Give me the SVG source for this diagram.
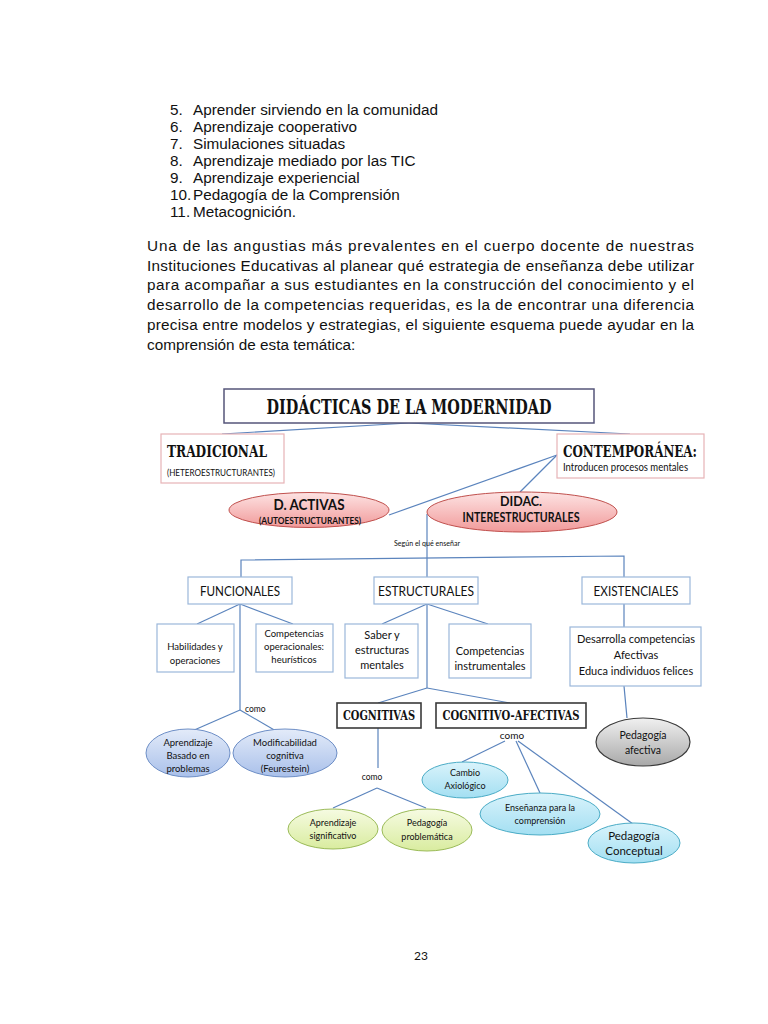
<svg xmlns="http://www.w3.org/2000/svg" width="768" height="1024" viewBox="0 0 768 1024">
<defs>
<style>
.body{font-family:"Liberation Sans",Arial,sans-serif;font-size:15.3px;fill:#111}
.deco{font-family:"DejaVu Serif","Liberation Serif",serif;font-weight:bold;fill:#111}
.cal{font-family:Lato,"Open Sans",sans-serif;fill:#111}
.b{font-weight:bold}
.conn{stroke:#5b84bd;stroke-width:1.2;fill:none}
.pinkbox{fill:#fff;stroke:#e7b3b6;stroke-width:1.2}
.bluebox{fill:#fff;stroke:#9bb7da;stroke-width:1.2}
.darkbox{fill:#fff;stroke:#3a3a3a;stroke-width:1.6}
.title{fill:#fff;stroke:#55557a;stroke-width:1.5}
.redell{fill:url(#gRed);stroke:#c0504d;stroke-width:1}
.blueell{fill:url(#gBlue);stroke:#6d8ec6;stroke-width:1}
.cyanell{fill:url(#gCyan);stroke:#4bacc6;stroke-width:1}
.greenell{fill:url(#gGreen);stroke:#9bbb59;stroke-width:1}
.greyell{fill:url(#gGrey);stroke:#3a3a3a;stroke-width:1.2}
</style>
<linearGradient id="gRed" x1="0" y1="0" x2="0" y2="1"><stop offset="0" stop-color="#fde3e3"/><stop offset="1" stop-color="#f19a9a"/></linearGradient>
<linearGradient id="gBlue" x1="0" y1="0" x2="0" y2="1"><stop offset="0" stop-color="#e3ebf9"/><stop offset="1" stop-color="#a9c0ea"/></linearGradient>
<linearGradient id="gCyan" x1="0" y1="0" x2="0" y2="1"><stop offset="0" stop-color="#d9f3fb"/><stop offset="1" stop-color="#a3dff2"/></linearGradient>
<linearGradient id="gGreen" x1="0" y1="0" x2="0" y2="1"><stop offset="0" stop-color="#f6fbe2"/><stop offset="1" stop-color="#d9ec9f"/></linearGradient>
<linearGradient id="gGrey" x1="0" y1="0" x2="0" y2="1"><stop offset="0" stop-color="#f0f0f0"/><stop offset="1" stop-color="#a8a8a8"/></linearGradient>
</defs>
<rect width="768" height="1024" fill="#fff"/>

<g id="list" class="body">
<text x="170" y="115">5.</text><text x="193" y="115">Aprender sirviendo en la comunidad</text>
<text x="170" y="132">6.</text><text x="193" y="132">Aprendizaje cooperativo</text>
<text x="170" y="149">7.</text><text x="193" y="149">Simulaciones situadas</text>
<text x="170" y="166">8.</text><text x="193" y="166">Aprendizaje mediado por las TIC</text>
<text x="170" y="183">9.</text><text x="193" y="183">Aprendizaje experiencial</text>
<text x="170" y="200">10.</text><text x="193" y="200">Pedagogía de la Comprensión</text>
<text x="170" y="217">11.</text><text x="193" y="217">Metacognición.</text>
</g>

<g id="paragraph" class="body">
<text x="147" y="251" textLength="547" lengthAdjust="spacing">Una de las angustias más prevalentes en el cuerpo docente de nuestras</text>
<text x="147" y="270.7" textLength="547" lengthAdjust="spacing">Instituciones Educativas al planear qué estrategia de enseñanza debe utilizar</text>
<text x="147" y="290.4" textLength="547" lengthAdjust="spacing">para acompañar  a sus estudiantes en la construcción del  conocimiento y  el</text>
<text x="147" y="310.1" textLength="547" lengthAdjust="spacing">desarrollo de  la competencias requeridas, es la de encontrar una diferencia</text>
<text x="147" y="329.8" textLength="547" lengthAdjust="spacing">precisa entre modelos y estrategias, el siguiente esquema puede ayudar en la</text>
<text x="147" y="349.5">comprensión de esta temática:</text>
</g>

<g id="connectors" class="conn">
<path d="M409 423 L222 434"/>
<path d="M409 423 L630 434"/>
<path d="M557 455 L389 515"/>
<path d="M557 455 L520 492"/>
<path d="M427 514 L427 577"/>
<path d="M241 577 L241 560 L624 556 L624 577"/>
<path d="M240 604 L197 624"/>
<path d="M240 604 L293 624"/>
<path d="M240 604 L240 710"/>
<path d="M240 710 L192 731"/>
<path d="M240 710 L276 731"/>
<path d="M427 604 L382 624"/>
<path d="M427 604 L488 624"/>
<path d="M427 604 L427 688"/>
<path d="M427 688 L378 703"/>
<path d="M427 688 L510 703"/>
<path d="M624 604 L624 627"/>
<path d="M624 686 L627 718"/>
<path d="M378 728 L378 768"/>
<path d="M377 788 L333 808"/>
<path d="M377 788 L426 808"/>
<path d="M505 741 L462 762"/>
<path d="M516 741 L540 793"/>
<path d="M518 741 L633 824"/>
</g>

<g id="n-title">
<rect class="title" x="224" y="389" width="370" height="34"/>
<text class="deco" x="409" y="414" font-size="20" text-anchor="middle" textLength="285" lengthAdjust="spacingAndGlyphs">DIDÁCTICAS DE LA MODERNIDAD</text>
</g>

<g id="n-tradicional">
<rect class="pinkbox" x="161" y="434" width="123" height="49"/>
<text class="deco" x="167" y="457" font-size="16" textLength="100" lengthAdjust="spacingAndGlyphs">TRADICIONAL</text>
<text class="cal" x="167" y="476" font-size="10" textLength="108" lengthAdjust="spacingAndGlyphs">(HETEROESTRUCTURANTES)</text>
</g>

<g id="n-contemporanea">
<rect class="pinkbox" x="557" y="434" width="147" height="44"/>
<text class="deco" x="563" y="457" font-size="16" textLength="134" lengthAdjust="spacingAndGlyphs">CONTEMPORÁNEA:</text>
<text class="cal" x="563" y="471" font-size="10.5" textLength="125" lengthAdjust="spacingAndGlyphs">Introducen procesos mentales</text>
</g>

<g id="n-activas">
<ellipse class="redell" cx="309" cy="510" rx="80" ry="17.5"/>
<text class="cal b" x="309" y="510" font-size="15" text-anchor="middle" textLength="71" lengthAdjust="spacingAndGlyphs">D. ACTIVAS</text>
<text class="cal b" x="310" y="524" font-size="9.5" text-anchor="middle" textLength="102" lengthAdjust="spacingAndGlyphs">(AUTOESTRUCTURANTES)</text>
</g>

<g id="n-didac">
<ellipse class="redell" cx="522" cy="512" rx="95" ry="20"/>
<text class="cal b" x="521" y="506" font-size="12.5" text-anchor="middle">DIDAC.</text>
<text class="cal b" x="521" y="522" font-size="12.5" text-anchor="middle" textLength="117" lengthAdjust="spacingAndGlyphs">INTERESTRUCTURALES</text>
</g>

<text id="lbl-segun" class="cal" x="427" y="546" font-size="7.5" text-anchor="middle" textLength="66" lengthAdjust="spacingAndGlyphs">Según el qué enseñar</text>

<g id="n-funcionales">
<rect class="bluebox" x="188" y="577" width="104" height="27"/>
<text class="cal" x="240" y="596" font-size="14" text-anchor="middle" textLength="80" lengthAdjust="spacingAndGlyphs">FUNCIONALES</text>
</g>
<g id="n-estructurales">
<rect class="bluebox" x="374" y="577" width="104" height="27"/>
<text class="cal" x="426" y="596" font-size="14" text-anchor="middle" textLength="96" lengthAdjust="spacingAndGlyphs">ESTRUCTURALES</text>
</g>
<g id="n-existenciales">
<rect class="bluebox" x="582" y="577" width="108" height="27"/>
<text class="cal" x="636" y="596" font-size="14" text-anchor="middle" textLength="85" lengthAdjust="spacingAndGlyphs">EXISTENCIALES</text>
</g>

<g id="n-habilidades">
<rect class="bluebox" x="157" y="624" width="77" height="48"/>
<text class="cal" x="195" y="650" font-size="9.5" text-anchor="middle">Habilidades y</text>
<text class="cal" x="195" y="664" font-size="9.5" text-anchor="middle">operaciones</text>
</g>
<g id="n-competencias-op">
<rect class="bluebox" x="256" y="624" width="77" height="48"/>
<text class="cal" x="294" y="637" font-size="9.5" text-anchor="middle">Competencias</text>
<text class="cal" x="294" y="650" font-size="9.5" text-anchor="middle">operacionales:</text>
<text class="cal" x="294" y="663" font-size="9.5" text-anchor="middle">heurísticos</text>
</g>
<g id="n-saber">
<rect class="bluebox" x="345" y="624" width="73" height="54"/>
<text class="cal" x="382" y="639" font-size="11" text-anchor="middle">Saber y</text>
<text class="cal" x="382" y="654" font-size="11" text-anchor="middle">estructuras</text>
<text class="cal" x="382" y="669" font-size="11" text-anchor="middle">mentales</text>
</g>
<g id="n-competencias-inst">
<rect class="bluebox" x="449" y="624" width="82" height="54"/>
<text class="cal" x="490" y="655" font-size="11" text-anchor="middle">Competencias</text>
<text class="cal" x="490" y="670" font-size="11" text-anchor="middle">instrumentales</text>
</g>
<g id="n-desarrolla">
<rect class="bluebox" x="570" y="627" width="131" height="59"/>
<text class="cal" x="636" y="643" font-size="11" text-anchor="middle">Desarrolla competencias</text>
<text class="cal" x="636" y="659" font-size="11" text-anchor="middle">Afectivas</text>
<text class="cal" x="636" y="675" font-size="11" text-anchor="middle">Educa individuos felices</text>
</g>

<g id="n-cognitivas">
<rect class="darkbox" x="337" y="703" width="84" height="25"/>
<text class="deco" x="379" y="720" font-size="12.5" text-anchor="middle" textLength="72" lengthAdjust="spacingAndGlyphs">COGNITIVAS</text>
</g>
<g id="n-cognitivo-afectivas">
<rect class="darkbox" x="436" y="703" width="150" height="25"/>
<text class="deco" x="511" y="720" font-size="12.5" text-anchor="middle" textLength="137" lengthAdjust="spacingAndGlyphs">COGNITIVO-AFECTIVAS</text>
</g>

<text id="lbl-como1" class="cal" x="245" y="712" font-size="8.5">como</text>
<text id="lbl-como2" class="cal" x="372" y="780" font-size="8.5" text-anchor="middle">como</text>
<text id="lbl-como3" class="cal" x="512" y="739" font-size="10" text-anchor="middle">como</text>

<g id="n-abp">
<ellipse class="blueell" cx="188" cy="753" rx="42" ry="24"/>
<text class="cal" x="188" y="746" font-size="9.5" text-anchor="middle">Aprendizaje</text>
<text class="cal" x="188" y="759" font-size="9.5" text-anchor="middle">Basado en</text>
<text class="cal" x="188" y="772" font-size="9.5" text-anchor="middle">problemas</text>
</g>
<g id="n-modificabilidad">
<ellipse class="blueell" cx="285" cy="753" rx="52" ry="24"/>
<text class="cal" x="285" y="746" font-size="9.5" text-anchor="middle">Modificabilidad</text>
<text class="cal" x="285" y="759" font-size="9.5" text-anchor="middle">cognitiva</text>
<text class="cal" x="285" y="772" font-size="9.5" text-anchor="middle">(Feurestein)</text>
</g>
<g id="n-afectiva">
<ellipse class="greyell" cx="643" cy="742" rx="47" ry="24"/>
<text class="cal" x="643" y="739" font-size="10.5" text-anchor="middle">Pedagogía</text>
<text class="cal" x="643" y="754" font-size="10.5" text-anchor="middle">afectiva</text>
</g>
<g id="n-cambio">
<ellipse class="cyanell" cx="465" cy="780" rx="43" ry="18"/>
<text class="cal" x="465" y="776" font-size="9" text-anchor="middle">Cambio</text>
<text class="cal" x="465" y="789" font-size="9" text-anchor="middle">Axiológico</text>
</g>
<g id="n-ensenanza">
<ellipse class="cyanell" cx="540" cy="814" rx="60" ry="21"/>
<text class="cal" x="540" y="811" font-size="9" text-anchor="middle">Enseñanza para la</text>
<text class="cal" x="540" y="824" font-size="9" text-anchor="middle">comprensión</text>
</g>
<g id="n-conceptual">
<ellipse class="cyanell" cx="634" cy="843" rx="46" ry="20"/>
<text class="cal" x="634" y="840" font-size="11.5" text-anchor="middle">Pedagogía</text>
<text class="cal" x="634" y="855" font-size="11.5" text-anchor="middle">Conceptual</text>
</g>
<g id="n-significativo">
<ellipse class="greenell" cx="333" cy="829" rx="45" ry="20"/>
<text class="cal" x="333" y="826" font-size="9" text-anchor="middle">Aprendizaje</text>
<text class="cal" x="333" y="839" font-size="9" text-anchor="middle">significativo</text>
</g>
<g id="n-problematica">
<ellipse class="greenell" cx="427" cy="830" rx="45" ry="21"/>
<text class="cal" x="427" y="826" font-size="9" text-anchor="middle">Pedagogía</text>
<text class="cal" x="427" y="840" font-size="9" text-anchor="middle">problemática</text>
</g>

<text id="page-number" class="cal" x="421" y="960" font-size="12" text-anchor="middle">23</text>
</svg>
